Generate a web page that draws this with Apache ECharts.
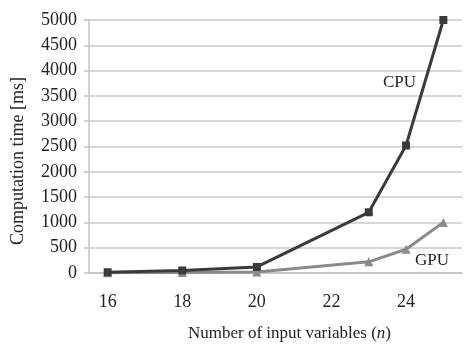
<!DOCTYPE html>
<html>
<head>
<meta charset="utf-8">
<script src="https://cdn.jsdelivr.net/npm/echarts@6/dist/echarts.min.js"></script>
<style>
  html, body { margin: 0; padding: 0; background: #fff; }
  #chart { width: 474px; height: 351px; }
</style>
</head>
<body>
<div id="chart"></div>
<script>
// input variables n
var nValues = [16, 18, 20, 23, 24, 25];
// computation time in ms
var cpuTimes = [15, 50, 120, 1200, 2520, 5000];
var gpuTimes = [5, 10, 20, 220, 470, 1000];
var xTicks = [16, 18, 20, 22, 24];

function pairs(xs, ys) {
  return xs.map(function (x, i) { return [x, ys[i]]; });
}

var font = '"Liberation Serif", "DejaVu Serif", serif';
var chart = echarts.init(document.getElementById('chart'));

chart.setOption({
  animation: false,
  grid: { left: 89, right: 12, top: 20, bottom: 78 },
  xAxis: {
    type: 'value',
    min: 15.5,
    max: 25.5,
    name: '{t|Number of input variables (}{i|n}{t|)}',
    nameLocation: 'middle',
    nameGap: 52,
    nameTextStyle: {
      padding: [0, 0, 0, 28],
      rich: {
        t: { fontFamily: font, fontSize: 17, color: '#222' },
        i: { fontFamily: font, fontSize: 17, color: '#222', fontStyle: 'italic' }
      }
    },
    axisLine: { show: true, lineStyle: { color: '#c4c4c4', width: 1.5 } },
    axisTick: { show: false },
    splitLine: { show: false },
    axisLabel: {
      customValues: xTicks,
      margin: 20,
      fontFamily: font,
      fontSize: 18,
      color: '#222'
    }
  },
  yAxis: {
    type: 'value',
    min: 0,
    max: 5000,
    interval: 500,
    axisLine: { show: true, lineStyle: { color: '#c4c4c4', width: 1.5 } },
    axisTick: { show: true, inside: false, length: 5, lineStyle: { color: '#c4c4c4', width: 1.5 } },
    splitLine: { lineStyle: { color: '#c8c8c8', width: 1.5 } },
    axisLabel: {
      margin: 12, fontFamily: font, fontSize: 18, color: '#222',
      formatter: function (v) { return String(v); }
    }
  },
  series: [
    {
      name: 'CPU',
      type: 'line',
      data: pairs(nValues, cpuTimes),
      symbol: 'rect',
      symbolSize: 8,
      lineStyle: { color: '#3a3a3a', width: 3 },
      itemStyle: { color: '#3a3a3a' },
      z: 3
    },
    {
      name: 'GPU',
      type: 'line',
      data: pairs(nValues, gpuTimes),
      symbol: 'triangle',
      symbolSize: 9,
      lineStyle: { color: '#8a8a8a', width: 3 },
      itemStyle: { color: '#8a8a8a' },
      z: 2
    }
  ],
  graphic: [
    {
      type: 'text', x: 18, y: 161, rotation: Math.PI / 2,
      style: {
        text: 'Computation time [ms]', font: '18px ' + font, fill: '#222',
        textAlign: 'center', textVerticalAlign: 'middle'
      }
    },
    {
      type: 'text', left: 383, top: 74,
      style: { text: 'CPU', font: '17px ' + font, fill: '#222' }
    },
    {
      type: 'text', left: 415, top: 252,
      style: { text: 'GPU', font: '17px ' + font, fill: '#222' }
    }
  ]
});
</script>
</body>
</html>
